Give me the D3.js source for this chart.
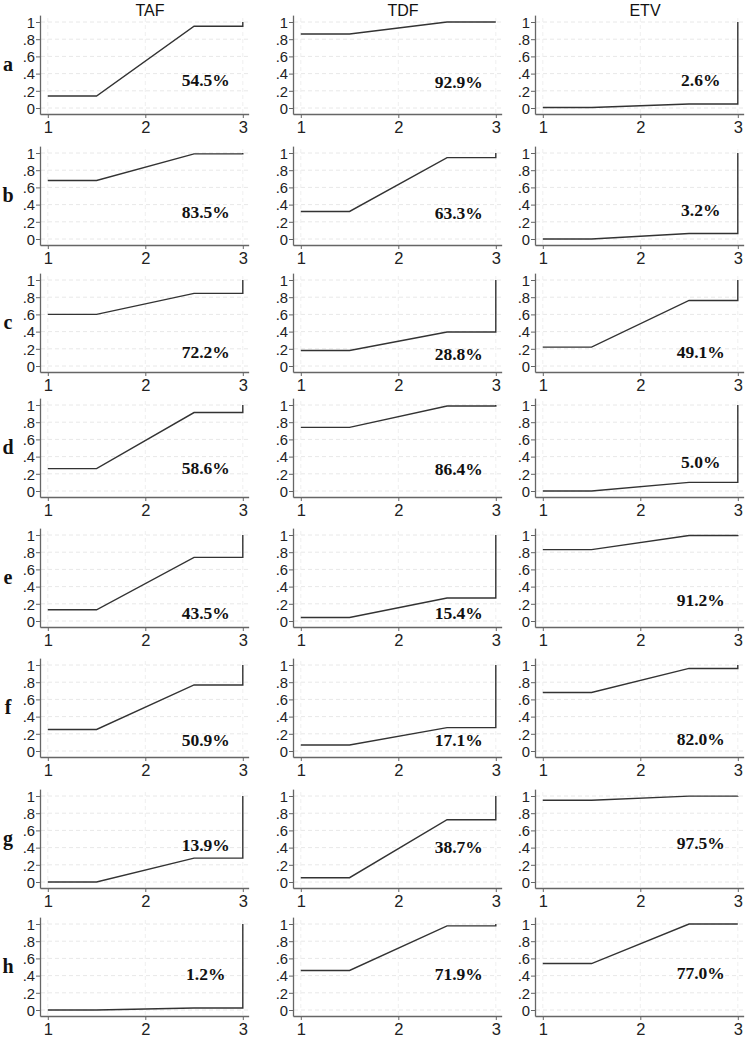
<!DOCTYPE html>
<html>
<head>
<meta charset="utf-8">
<script src="https://cdn.jsdelivr.net/npm/d3@7"></script>
<style>
  html, body { margin: 0; padding: 0; background: #fff; }
  svg { display: block; }
</style>
</head>
<body>
<div id="chart"></div>
<script>
// 数据：每个方案在 rank 1 与 rank 1+2 的累积概率
var rowLabels = ["a", "b", "c", "d", "e", "f", "g", "h"];
var treatments = ["TAF", "TDF", "ETV"];

var rank1TAF  = [0.14, 0.68, 0.60, 0.26, 0.13, 0.25, 0.00, 0.00];
var rank12TAF = [0.95, 0.99, 0.844, 0.912, 0.74, 0.768, 0.278, 0.024];
var rank1TDF  = [0.86, 0.32, 0.18, 0.74, 0.04, 0.07, 0.05, 0.46];
var rank12TDF = [1.00, 0.946, 0.396, 0.988, 0.268, 0.272, 0.724, 0.978];
var rank1ETV  = [0.005, 0.00, 0.22, 0.00, 0.83, 0.68, 0.95, 0.54];
var rank12ETV = [0.047, 0.064, 0.762, 0.10, 0.994, 0.96, 0.998, 1.00];

var sucraTAF = ["54.5%", "83.5%", "72.2%", "58.6%", "43.5%", "50.9%", "13.9%", "1.2%"];
var sucraTDF = ["92.9%", "63.3%", "28.8%", "86.4%", "15.4%", "17.1%", "38.7%", "71.9%"];
var sucraETV = ["2.6%", "3.2%", "49.1%", "5.0%", "91.2%", "82.0%", "97.5%", "77.0%"];

var xTicks = [1, 2, 3];
var yTicks = [0, 0.2, 0.4, 0.6, 0.8, 1];
var yTickLabels = ["0", ".2", ".4", ".6", ".8", "1"];

// 布局（像素 / 坐标位置，不属于数据）
var WIDTH = 750, HEIGHT = 1039;
var COL_X = [40, 293, 535];                                 // 每列 y 轴的位置
var ROW_ZERO = [108, 239, 366, 491, 621, 751, 882, 1010];   // 每行 y=0 的位置
var PX_X = 97.5, PX_Y = 86;
var X_DOMAIN = [0.92, 3.06], Y_DOMAIN = [-0.07, 1.08];
var LABEL_X = 2.62;
var labelYTAF = [0.33, 0.31, 0.16, 0.27, 0.10, 0.13, 0.43, 0.42];
var labelYTDF = [0.30, 0.30, 0.14, 0.26, 0.09, 0.13, 0.41, 0.42];
var labelYETV = [0.33, 0.34, 0.17, 0.34, 0.24, 0.14, 0.45, 0.43];

var rank1 = [rank1TAF, rank1TDF, rank1ETV];
var rank12 = [rank12TAF, rank12TDF, rank12ETV];
var sucra = [sucraTAF, sucraTDF, sucraETV];
var labelY = [labelYTAF, labelYTDF, labelYETV];

var svg = d3.select("#chart")
  .append("svg")
  .attr("width", WIDTH)
  .attr("height", HEIGHT);

// 列标题
treatments.forEach(function (t, c) {
  svg.append("text")
    .attr("x", COL_X[c] + 110)
    .attr("y", 16)
    .attr("text-anchor", "middle")
    .style("font-family", "'Liberation Sans', Arial, sans-serif")
    .style("font-size", "16px")
    .style("fill", "#111")
    .text(t);
});

// 行标签
rowLabels.forEach(function (r, i) {
  svg.append("text")
    .attr("x", 8)
    .attr("y", ROW_ZERO[i] - 37)
    .attr("text-anchor", "middle")
    .style("font-family", "'Liberation Serif', 'Times New Roman', serif")
    .style("font-weight", "bold")
    .style("font-size", "20px")
    .style("fill", "#111")
    .text(r);
});

var line = d3.line()
  .x(function (d) { return d[0]; })
  .y(function (d) { return d[1]; });

rowLabels.forEach(function (r, i) {
  treatments.forEach(function (t, c) {
    var x0 = COL_X[c];
    var yZero = ROW_ZERO[i];

    var xScale = d3.scaleLinear()
      .domain(X_DOMAIN)
      .range([x0, x0 + (X_DOMAIN[1] - X_DOMAIN[0]) * PX_X]);
    var yScale = d3.scaleLinear()
      .domain(Y_DOMAIN)
      .range([yZero - Y_DOMAIN[0] * PX_Y, yZero - Y_DOMAIN[1] * PX_Y]);

    var g = svg.append("g");

    // 网格线
    g.selectAll(".hgrid")
      .data(yTicks)
      .enter()
      .append("line")
      .attr("x1", xScale(X_DOMAIN[0]) + 1)
      .attr("x2", xScale(X_DOMAIN[1]))
      .attr("y1", function (d) { return yScale(d); })
      .attr("y2", function (d) { return yScale(d); })
      .style("stroke", "#e8e8e8")
      .style("stroke-width", 1)
      .style("stroke-dasharray", "4,3");

    g.selectAll(".vgrid")
      .data(xTicks)
      .enter()
      .append("line")
      .attr("x1", function (d) { return xScale(d); })
      .attr("x2", function (d) { return xScale(d); })
      .attr("y1", yScale(Y_DOMAIN[0]) - 1)
      .attr("y2", yScale(Y_DOMAIN[1]))
      .style("stroke", "#efefef")
      .style("stroke-width", 1)
      .style("stroke-dasharray", "4,3");

    // x 轴
    var xAxis = d3.axisBottom(xScale)
      .tickValues(xTicks)
      .tickFormat(d3.format("d"))
      .tickSizeInner(4)
      .tickSizeOuter(0)
      .tickPadding(3);
    var gx = g.append("g")
      .attr("transform", "translate(0," + yScale(Y_DOMAIN[0]) + ")")
      .call(xAxis);

    // y 轴
    var yAxis = d3.axisLeft(yScale)
      .tickValues(yTicks)
      .tickFormat(function (d, k) { return yTickLabels[k]; })
      .tickSizeInner(4)
      .tickSizeOuter(0)
      .tickPadding(1);
    var gy = g.append("g")
      .attr("transform", "translate(" + xScale(X_DOMAIN[0]) + ",0)")
      .call(yAxis);

    [gx, gy].forEach(function (ax) {
      ax.select(".domain").style("stroke", "#666").style("stroke-width", 1.3);
      ax.selectAll(".tick line").style("stroke", "#666");
      ax.selectAll(".tick text")
        .attr("font-family", null)
        .attr("font-size", null)
        .style("font-family", "'Liberation Sans', Arial, sans-serif")
        .style("font-size", "14.8px")
        .style("fill", "#222");
    });
    gx.selectAll(".tick text").style("font-size", "16.5px");
    gy.selectAll(".tick text").attr("dy", "0.36em");

    // 累积排序曲线
    var p1 = rank1[c][i], p12 = rank12[c][i];
    var pts = [[1, p1], [1.5, p1], [2.5, p12], [3, p12], [3, 1]];
    g.append("path")
      .datum(pts.map(function (p) { return [xScale(p[0]), yScale(p[1])]; }))
      .attr("d", line)
      .style("fill", "none")
      .style("stroke", "#333")
      .style("stroke-width", 1.4);

    // SUCRA 数值
    g.append("text")
      .attr("x", xScale(LABEL_X))
      .attr("y", yScale(labelY[c][i]))
      .attr("dy", "0.35em")
      .attr("text-anchor", "middle")
      .style("font-family", "'Liberation Serif', 'Times New Roman', serif")
      .style("font-weight", "bold")
      .style("font-size", "17.5px")
      .style("fill", "#111")
      .text(sucra[c][i]);
  });
});
</script>
</body>
</html>
